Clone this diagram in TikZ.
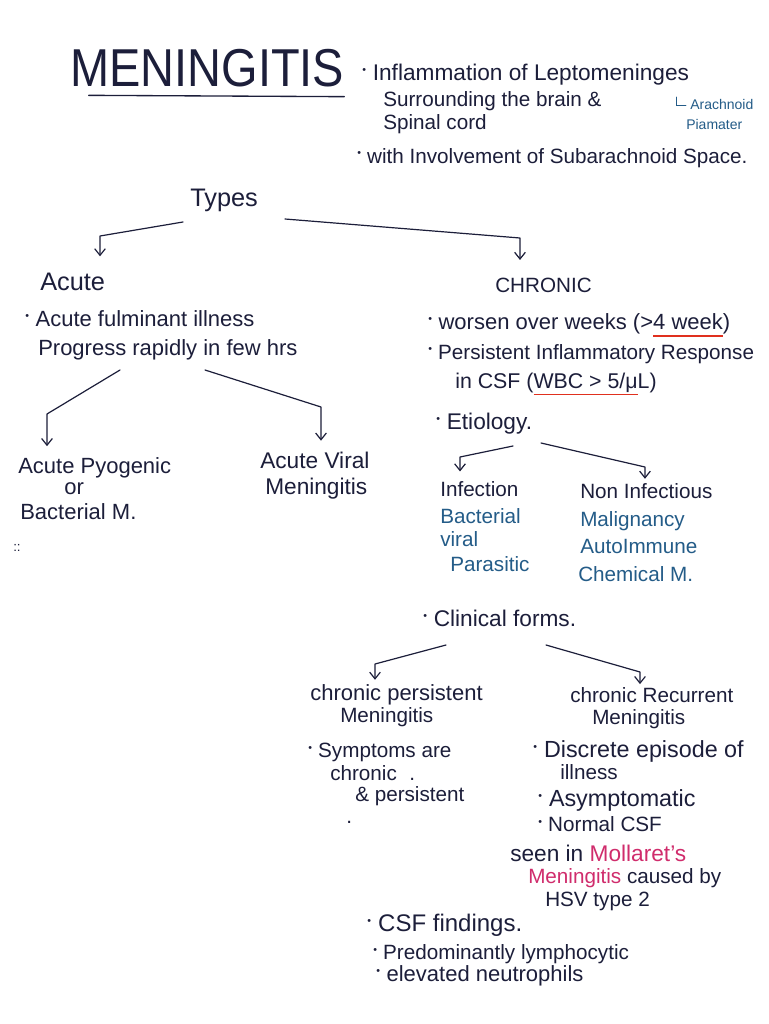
\documentclass[tikz,border=0pt]{standalone}
\usepackage{fontspec}
\setmainfont{Liberation Sans}
\usetikzlibrary{arrows.meta}
\definecolor{ink}{HTML}{1C1E3A}
\definecolor{blueink}{HTML}{245C88}
\definecolor{pinkink}{HTML}{D02C6C}
\definecolor{redink}{HTML}{E0301E}
\newcommand\bul{\raisebox{0.55ex}{\footnotesize\textbullet}\hspace{0.3em}}
\newlength\ulw
\newcommand\redul[1]{\settowidth\ulw{#1}\rlap{\color{redink}\rule[-0.35em]{\ulw}{1.1pt}}#1}
\begin{document}
\begin{tikzpicture}[x=0.75pt,y=-0.75pt,
  txt/.style={anchor=base west, inner sep=0pt, text=ink, font=\fontsize{15.5}{18}\selectfont},
  fsz/.style={font=\fontsize{#1}{#1}\selectfont},
  big/.style={txt, font=\fontsize{19}{22}\selectfont},
  small/.style={txt, text=blueink, font=\fontsize{10.5}{12}\selectfont},
  sub/.style={txt, text=blueink},
  arr/.style={draw=ink, line width=0.9pt, line cap=round, line join=round, -{Straight Barb[length=5pt,width=8pt]}},
  ]
\useasboundingbox (0,0) rectangle (768,1024);
\fill[white] (0,0) rectangle (768,1024);

% title
\node[txt, font=\fontsize{40}{44}\selectfont] (title) at (70,86) {\scalebox{0.88}[1]{MENINGITIS}};
\draw[ink, line width=1pt, line cap=round] ([xshift=14pt,yshift=-7pt]title.base west) -- ([yshift=-8pt]title.base east);

% definition
\node[txt, fsz=17] (def1) at (362,80) {\bul Inflammation of Leptomeninges};
\node[txt] (def2) at (383,106) {Surrounding the brain \&};
\node[txt] (def3) at (383,129) {Spinal cord};
\node[small] (arach) at (690,109) {Arachnoid};
\node[small] (pia) at (686,129) {Piamater};
\draw[blueink, line width=0.7pt, line cap=round] ([xshift=-10pt,yshift=9pt]arach.base west) -- ([xshift=-10pt,yshift=3pt]arach.base west) -- ([xshift=-3pt,yshift=3pt]arach.base west);
\node[txt] (def4) at (357,163) {\bul with Involvement of Subarachnoid Space.};

% types
\node[big] (types) at (190,206) {Types};
\node[big] (acute) at (40,290) {Acute};
\node[txt] (chronic) at (495,292) {CHRONIC};
\coordinate (t1) at (183,222);
\coordinate (t1b) at (100,236);
\coordinate (t2) at (285,219);
\coordinate (t2b) at (520,238);
\draw[arr, shorten >=12pt] (t1) -- (t1b) -- (t1b |- acute.north);
\draw[arr, shorten >=13pt] (t2) -- (t2b) -- (t2b |- chronic.north);

% acute
\node[txt, fsz=16.5] (ac1) at (25,326) {\bul Acute fulminant illness};
\node[txt, fsz=16.5] (ac2) at (38,355) {Progress rapidly in few hrs};

% chronic
\node[txt, fsz=16.5] (ch1) at (428,329) {\bul worsen over weeks (>\redul{4 week})};
\node[txt] (ch2) at (428,359) {\bul Persistent Inflammatory Response};
\node[txt, fsz=16] (ch3) at (455,388) {in CSF (\redul{WBC > 5/μ}L)};

% acute branches
\node[txt, fsz=16.5] (pyo1) at (18,473) {Acute Pyogenic};
\node[txt, fsz=16.5] (pyo2) at (64,494) {or};
\node[txt, fsz=16.5] (pyo3) at (20,519) {Bacterial M.};
\node[txt, fsz=17] (vir1) at (260,468) {Acute Viral};
\node[txt, fsz=17] (vir2) at (265,494) {Meningitis};
\node[txt, font=\fontsize{10}{12}\selectfont] (dots) at (13,551) {::};
\coordinate (a1) at (120,370);
\coordinate (a1b) at (47,414);
\coordinate (a2) at (205,370);
\coordinate (a2b) at (321,407);
\draw[arr, shorten >=8pt] (a1) -- (a1b) -- (a1b |- pyo1.north);
\draw[arr, shorten >=8pt] (a2) -- (a2b) -- (a2b |- vir1.north);

% etiology
\node[txt, fsz=17] (etio) at (436,429) {\bul Etiology.};
\node[txt] (inf) at (440,496) {Infection};
\node[sub] (inf1) at (440,523) {Bacterial};
\node[sub] (inf2) at (440,546) {viral};
\node[sub] (inf3) at (450,571) {Parasitic};
\node[txt] (non) at (580,498) {Non Infectious};
\node[sub] (non1) at (580,526) {Malignancy};
\node[sub] (non2) at (580,553) {AutoImmune};
\node[sub] (non3) at (578,581) {Chemical M.};
\coordinate (e1) at (513,446);
\coordinate (e1b) at (460,457);
\coordinate (e2) at (541,443);
\coordinate (e2b) at (645,467);
\draw[arr, shorten >=7pt] (e1) -- (e1b) -- (e1b |- inf.north);
\draw[arr, shorten >=3pt] (e2) -- (e2b) -- (e2b |- non.north);

% clinical forms
\node[txt, fsz=17] (clin) at (423,626) {\bul Clinical forms.};
\node[txt, fsz=16.5] (cp1) at (310,700) {chronic persistent};
\node[txt] (cp2) at (340,722) {Meningitis};
\node[txt] (cr1) at (570,702) {chronic Recurrent};
\node[txt] (cr2) at (592,724) {Meningitis};
\coordinate (f1) at (446,645);
\coordinate (f1b) at (375,664);
\coordinate (f2) at (546,645);
\coordinate (f2b) at (640,672);
\draw[arr, shorten >=3pt] (f1) -- (f1b) -- (f1b |- cp1.north);
\draw[arr, shorten >=2pt] (f2) -- (f2b) -- (f2b |- cr1.north);

\node[txt] (cp3) at (308,757) {\bul Symptoms are};
\node[txt] (cp4) at (330,780) {chronic\hspace{0.6em}.};
\node[txt] (cp5) at (355,801) {\& persistent};
\node[txt] (cp6) at (346,823) {.};

\node[txt, fsz=17.5] (cr3) at (533,757) {\bul Discrete episode of};
\node[txt] (cr4) at (560,779) {illness};
\node[txt, fsz=17.5] (cr5) at (538,806) {\bul Asymptomatic};
\node[txt] (cr6) at (538,831) {\bul Normal CSF};
\node[txt, fsz=17] (cr7) at (510,861) {seen in \textcolor{pinkink}{Mollaret's}};
\node[txt] (cr8) at (528,883) {\textcolor{pinkink}{Meningitis} caused by};
\node[txt] (cr9) at (545,906) {HSV type 2};

% CSF findings
\node[txt, fsz=18] (csf1) at (367,931) {\bul CSF findings.};
\node[txt] (csf2) at (373,959) {\bul Predominantly lymphocytic};
\node[txt, fsz=16.5] (csf3) at (376,981) {\bul elevated neutrophils};
\end{tikzpicture}
\end{document}
